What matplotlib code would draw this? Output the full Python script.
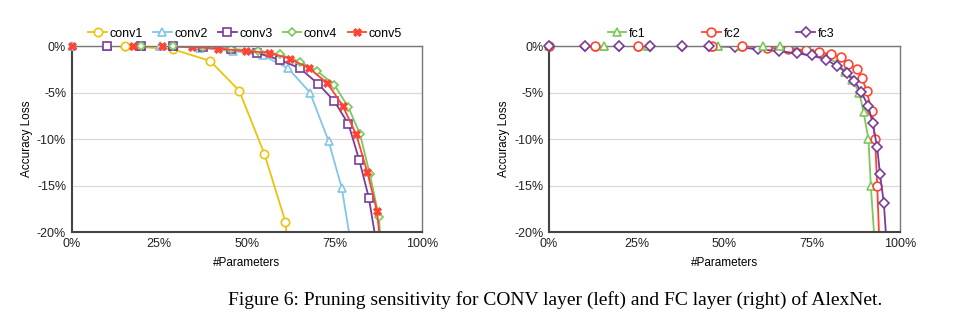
import matplotlib.pyplot as plt

# CONV layers (left): % parameters pruned vs accuracy loss (%)
conv1_x = [15.2, 28.8, 39.5, 47.8, 55.0, 61.0, 62.0]
conv1_y = [0, -0.34, -1.6, -4.8, -11.6, -18.9, -23.0]
conv2_x = [0, 10, 25.3, 36.7, 46.1, 54.5, 61.8, 68.0, 73.3, 77.1, 80.0]
conv2_y = [0, 0, 0, -0.2, -0.54, -1.0, -2.4, -5.0, -10.2, -15.3, -22.0]
conv3_x = [10, 19.7, 28.8, 37.6, 45.4, 53.0, 59.5, 65.2, 70.4, 74.9, 79.0, 82.1, 84.8, 87.3]
conv3_y = [0, 0, 0, -0.15, -0.29, -0.75, -1.5, -2.4, -4.1, -5.9, -8.4, -12.3, -16.3, -22.0]
conv4_x = [19.7, 28.8, 37.6, 45.4, 53.3, 59.5, 65.2, 70.1, 75.0, 79.0, 82.3, 85.1, 87.7, 88.3]
conv4_y = [0, 0, -0.1, -0.29, -0.54, -0.9, -1.7, -2.7, -4.2, -6.6, -9.5, -13.8, -18.4, -22.0]
conv5_x = [0, 17.4, 25.7, 34.3, 41.8, 49.8, 56.4, 62.3, 67.8, 73.0, 77.3, 81.2, 84.4, 87.1, 88.3]
conv5_y = [0, 0, 0, -0.1, -0.29, -0.54, -0.72, -1.36, -2.4, -4.0, -6.4, -9.5, -13.6, -17.7, -22.0]

# FC layers (right)
fc1_x = [0, 15.7, 28.3, 48.2, 54.6, 61.0, 65.8, 70.5, 75.1, 79.0, 82.0, 84.3, 86.4, 88.4, 89.6, 91.0, 91.7, 93.1]
fc1_y = [0, 0, 0, 0, 0, 0, 0, -0.3, -0.7, -1.2, -1.8, -2.75, -3.7, -5.0, -7.1, -10.0, -15.1, -23.0]
fc2_x = [0, 13.1, 25.4, 46.3, 54.9, 62.0, 68.2, 73.2, 77.0, 80.3, 83.1, 85.3, 87.7, 89.1, 90.5, 91.9, 92.9, 93.5, 94.3]
fc2_y = [0, 0, 0, 0, 0, -0.18, -0.29, -0.46, -0.65, -0.9, -1.2, -1.94, -2.5, -3.4, -4.8, -7.0, -10.0, -15.05, -23.0]
fc3_x = [0, 10.3, 20.0, 28.8, 37.8, 45.7, 53.0, 59.6, 65.5, 70.7, 74.8, 78.8, 82.1, 84.8, 87.0, 88.9, 91.0, 92.2, 93.5, 94.3, 95.4, 96.3]
fc3_y = [0, 0, 0, 0, 0, 0, -0.1, -0.35, -0.54, -0.8, -1.0, -1.45, -2.15, -2.87, -3.76, -4.9, -6.5, -8.3, -10.9, -13.8, -16.9, -22.0]

x_ticks = [0, 25, 50, 75, 100]
y_ticks = [0, -5, -10, -15, -20]

YELLOW = '#EBC30E'
BLUE = '#82C5E6'
PURPLE = '#7A3C9C'
GREEN = '#7CC85A'
RED = '#FF4433'

plt.rcParams['font.family'] = ['Liberation Sans', 'DejaVu Sans']

fig = plt.figure(figsize=(9.59, 3.29), dpi=100)
ax1 = fig.add_axes([0.0748, 0.2948, 0.3653, 0.5653])
ax2 = fig.add_axes([0.5725, 0.2948, 0.366, 0.5653])


def line(ax, x, y, color, marker, label, ms=6, mfc='white', mew=1.2):
    kw = dict(color=color, marker=marker, ms=ms, mfc=mfc, mec=color, mew=mew)
    ax.plot(x, y, lw=1.3, label=label, **kw)
    # markers sitting on the frame edge drawn unclipped, like the original
    edge = [(a, b) for a, b in zip(x, y) if b >= -20 and (a == 0 or b == 0)]
    ax.plot([p[0] for p in edge], [p[1] for p in edge], ls='none',
            clip_on=False, zorder=3, **kw)


line(ax1, conv1_x, conv1_y, YELLOW, 'o', 'conv1')
line(ax1, conv2_x, conv2_y, BLUE, '^', 'conv2')
line(ax1, conv3_x, conv3_y, PURPLE, 's', 'conv3', ms=6)
line(ax1, conv4_x, conv4_y, GREEN, 'D', 'conv4', ms=4.3)
line(ax1, conv5_x, conv5_y, RED, 'X', 'conv5', ms=5.5, mfc=RED, mew=0.6)

line(ax2, fc1_x, fc1_y, GREEN, '^', 'fc1', ms=6.3)
line(ax2, fc2_x, fc2_y, RED, 'o', 'fc2', ms=6.3)
line(ax2, fc3_x, fc3_y, PURPLE, 'D', 'fc3', ms=4.6)

for ax in (ax1, ax2):
    ax.set_xlim(0, 100)
    ax.set_ylim(-20, 0)
    ax.set_xticks(x_ticks)
    ax.set_xticklabels([f'{t}%' for t in x_ticks])
    ax.set_yticks(y_ticks)
    ax.set_yticklabels([f'{t}%' for t in y_ticks])
    ax.tick_params(length=0, labelsize=9, colors='#222222', pad=4)
    ax.grid(axis='y', color='#d9d9d9', lw=0.9)
    ax.set_axisbelow(True)
    for s in ('left', 'bottom'):
        ax.spines[s].set_color('#444444')
        ax.spines[s].set_linewidth(1.5)
    for s in ('top', 'right'):
        ax.spines[s].set_color('#777777')
        ax.spines[s].set_linewidth(1.0)
    ax.set_xlabel('#Parameters', fontsize=8.5, labelpad=5)
    ax.set_ylabel('Accuracy Loss', fontsize=8.5, labelpad=3)

ax1.legend(loc='lower left', bbox_to_anchor=(0.04, 1.02, 0.91, 0.1), mode='expand',
           ncol=5, frameon=False, fontsize=9, handlelength=1.5,
           handletextpad=0.2, borderaxespad=0.0, borderpad=0.2)
ax2.legend(loc='lower left', bbox_to_anchor=(0.16, 1.02, 0.66, 0.1), mode='expand',
           ncol=3, frameon=False, fontsize=9, handlelength=1.5,
           handletextpad=0.2, borderaxespad=0.0, borderpad=0.2)

fig.text(0.579, 0.088, 'Figure 6: Pruning sensitivity for CONV layer (left) and FC layer (right) of AlexNet.',
         ha='center', va='center', fontsize=14.0, family=['Liberation Serif', 'DejaVu Serif'])

fig.savefig('out.png', dpi=100)
